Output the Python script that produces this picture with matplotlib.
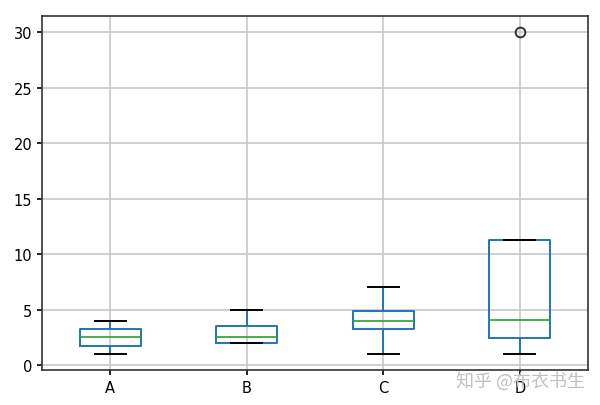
import matplotlib
matplotlib.use("Agg")
import matplotlib.pyplot as plt
import pandas as pd

# values per column (5 points each, giving the quartiles seen in the chart)
A = [1, 1.75, 2.5, 3.25, 4]
B = [2, 2, 2.5, 3.5, 5]
C = [1, 3.25, 4, 4.85, 7]
D = [1, 2.45, 4.05, 11.25, 30]
columns = ["A", "B", "C", "D"]

df = pd.DataFrame(dict(zip(columns, [A, B, C, D])))

fig = plt.figure(figsize=(6, 4.06), dpi=100)
ax = fig.add_axes([0.07, 0.086, 0.91, 0.872])
lw = 1.4
blue = "#1f77b4"
df.boxplot(ax=ax,
           boxprops=dict(linewidth=lw, color=blue),
           whiskerprops=dict(linewidth=lw, color=blue),
           capprops=dict(linewidth=lw, color="black"),
           medianprops=dict(linewidth=1.2, color="#2ca02c"),
           flierprops=dict(markeredgewidth=1.4, markersize=7,
                           markeredgecolor="#333333"))
ax.grid(True, linewidth=1.2, color="#c8c8c8")

ax.tick_params(labelsize=10.5, width=1.2)
for s in ax.spines.values():
    s.set_color("#333333")
    s.set_linewidth(1.2)

# watermark
fig.text(0.975, 0.06, "知乎 @布衣书生", ha="right", va="center", fontsize=13,
         color="#c0c0c0", family=["Noto Sans CJK SC", "DejaVu Sans"])

fig.savefig("out.png", dpi=100)
